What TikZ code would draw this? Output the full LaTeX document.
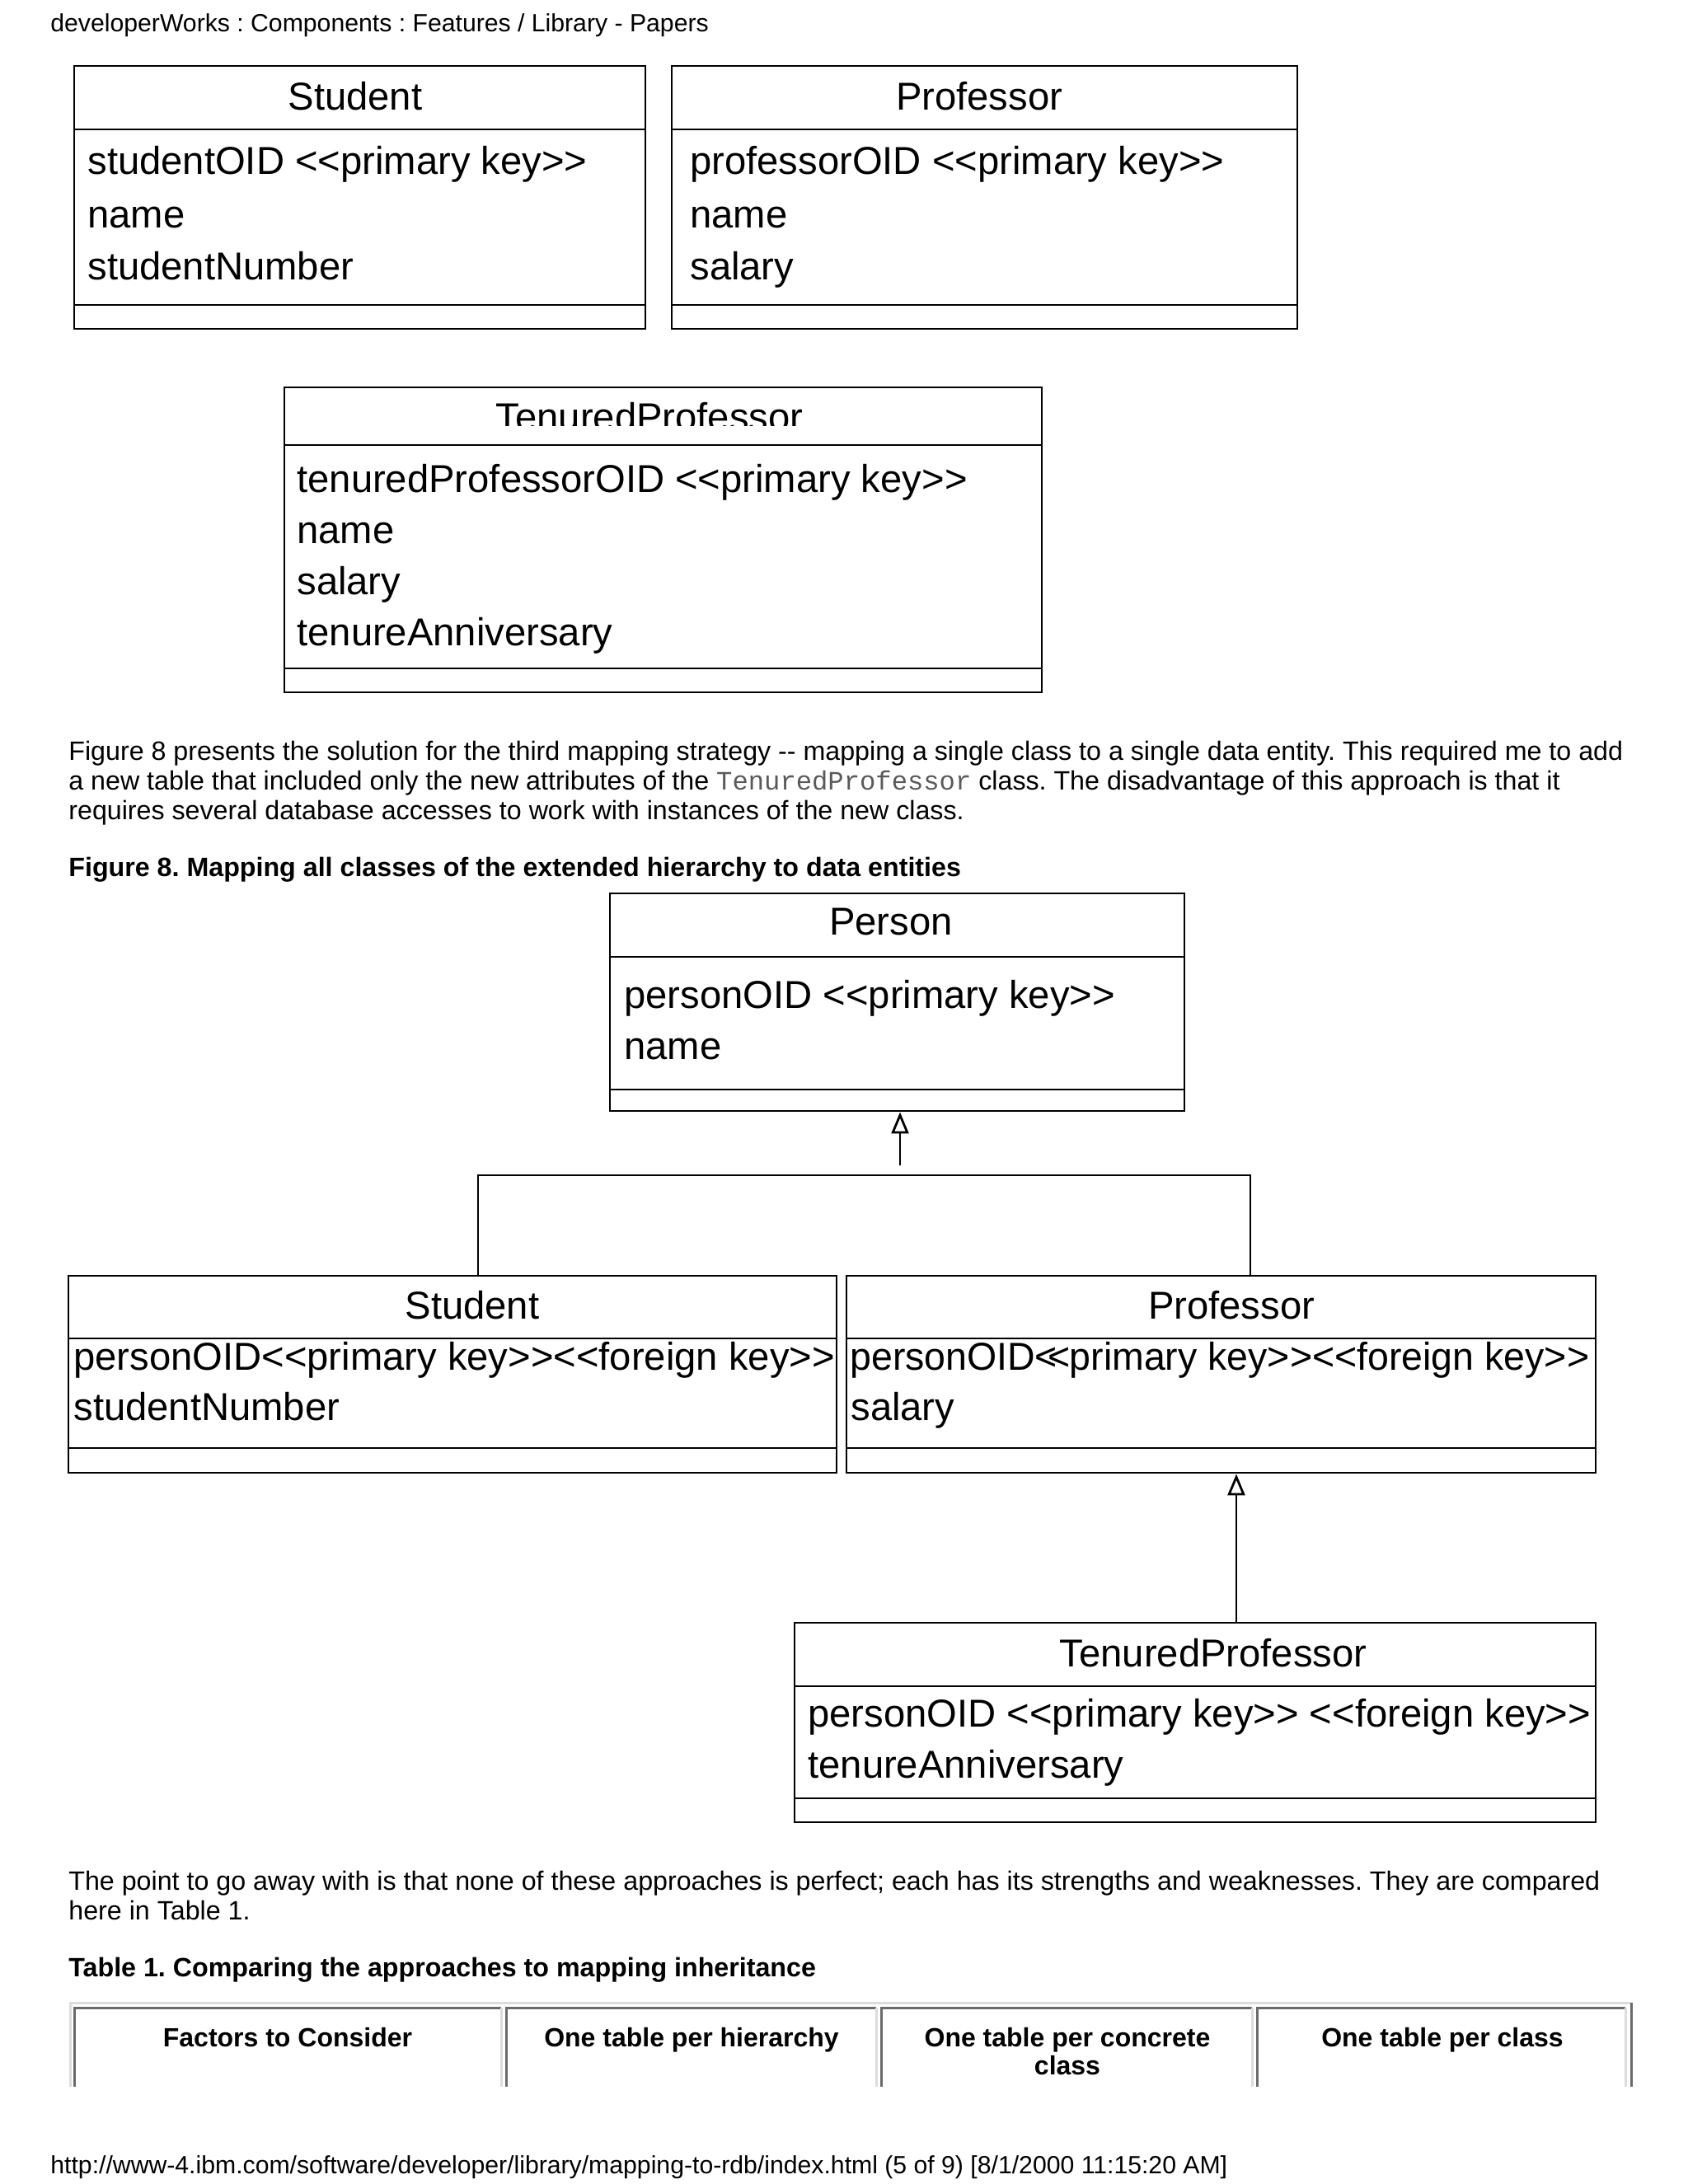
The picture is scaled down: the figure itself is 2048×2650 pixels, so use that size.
\documentclass[tikz,border=0pt]{standalone}
\usepackage{fontspec}
\setmainfont{Liberation Sans}
\setmonofont{Liberation Mono}
\usetikzlibrary{arrows.meta,fit}
\definecolor{tlight}{HTML}{DCDCDC}
\definecolor{tdark}{HTML}{6A6A6A}
\definecolor{codegray}{HTML}{5A5A5A}
\newcommand\LL{<{}<}
\newcommand\GG{>{}>}
\tikzset{
  uml/.style={draw, line width=1.4pt, inner sep=0pt},
  umlline/.style={line width=1.4pt},
  umltxt/.style={font=\fontsize{23.6}{23.6}\selectfont, inner sep=0pt, anchor=base west},
  umltitle/.style={font=\fontsize{23.6}{23.6}\selectfont, inner sep=0pt, anchor=base},
  body/.style={font=\fontsize{16.1}{16.1}\selectfont, inner sep=0pt, anchor=base west},
  capt/.style={font=\bfseries\fontsize{16.1}{16.1}\selectfont, inner sep=0pt, anchor=base west},
  hdr/.style={font=\fontsize{15.1}{15.1}\selectfont, inner sep=0pt, anchor=base west},
  th/.style={font=\bfseries\fontsize{16}{16}\selectfont, inner sep=0pt, anchor=base},
  conn/.style={line width=1.4pt},
  inh/.style={line width=1.4pt, -{Triangle[open, length=13pt, width=10.5pt, fill=white]}},
  lightb/.style={draw=tlight, line width=1.5pt},
  darkb/.style={draw=tdark, line width=1.5pt},
}
% name, x1, y1, x2, y2, divider1, divider2
\newcommand\umlclassbox[7]{%
  \node[uml, fit={(#2,#3) (#4,#5)}] (#1) {};
  \draw[umlline] (#2,#6) -- (#4,#6);
  \draw[umlline] (#2,#7) -- (#4,#7);
}
\begin{document}
\frenchspacing
\begin{tikzpicture}[x=0.5pt, y=-0.5pt]
\useasboundingbox[fill=white] (0,0) rectangle (2048,2650);

% header
\node[hdr] (header) at (61,39) {developerWorks : Components : Features / Library - Papers};

% ---------- top classes ----------
\umlclassbox{stA}{90}{80}{783}{399}{157}{370}
\node[umltitle] (stA-t) at (431,133) {Student};
\node[umltxt] (stA-1) at (106,211) {studentOID \LL primary key\GG};
\node[umltxt] (stA-2) at (106,276) {name};
\node[umltxt] (stA-3) at (106,339) {studentNumber};

\umlclassbox{prA}{815}{80}{1574}{399}{157}{370}
\node[umltitle] (prA-t) at (1188,133) {Professor};
\node[umltxt] (prA-1) at (837,211) {professorOID \LL primary key\GG};
\node[umltxt] (prA-2) at (837,276) {name};
\node[umltxt] (prA-3) at (837,339) {salary};

\umlclassbox{tpA}{345}{470}{1264}{840}{540}{811}
\begin{scope}
  \clip (345,470) rectangle (1264,516);
  \node[umltitle] (tpA-t) at (788,522) {TenuredProfessor};
\end{scope}
\node[umltxt] (tpA-1) at (360,597) {tenuredProfessorOID \LL primary key\GG};
\node[umltxt] (tpA-2) at (360,659) {name};
\node[umltxt] (tpA-3) at (360,721) {salary};
\node[umltxt] (tpA-4) at (360,783) {tenureAnniversary};

% ---------- paragraph 1 ----------
\node[body] (p1a) at (83,922) {Figure 8 presents the solution for the third mapping strategy -{}- mapping a single class to a single data entity. This required me to add};
\node[body] (p1b) at (83,958) {a new table that included only the new attributes of the {\color{codegray}\ttfamily TenuredProfessor} class. The disadvantage of this approach is that it};
\node[body] (p1c) at (83,994) {requires several database accesses to work with instances of the new class.};
\node[capt] (cap8) at (83,1063) {Figure 8. Mapping all classes of the extended hierarchy to data entities};

% ---------- figure 8 ----------
\umlclassbox{person}{740}{1084}{1437}{1348}{1161}{1322}
\node[umltitle] (person-t) at (1081,1134) {Person};
\node[umltxt] (person-1) at (757,1223) {personOID \LL primary key\GG};
\node[umltxt] (person-2) at (757,1285) {name};

\umlclassbox{stB}{83}{1548}{1015}{1787}{1624}{1757}
\node[umltitle] (stB-t) at (573,1600) {Student};
\node[umltxt] (stB-1) at (89,1662) {personOID\LL primary key\GG\LL foreign key\GG};
\node[umltxt] (stB-2) at (89,1723) {studentNumber};

\umlclassbox{prB}{1027}{1548}{1936}{1787}{1624}{1757}
\node[umltitle] (prB-t) at (1494,1600) {Professor};
\node[umltxt, xscale=0.985] (prB-1) at (1031,1662) {personOID\kern-0.5pt<\kern-5.5pt<\kern-0.5pt primary key\GG\LL foreign key\GG};
\node[umltxt] (prB-2) at (1032,1723) {salary};

\umlclassbox{tpB}{964}{1969}{1936}{2211}{2046}{2182}
\node[umltitle] (tpB-t) at (1472,2022) {TenuredProfessor};
\node[umltxt] (tpB-1) at (980,2095) {personOID \LL primary key\GG{} \LL foreign key\GG};
\node[umltxt] (tpB-2) at (980,2157) {tenureAnniversary};

% connectors
\coordinate (barL) at (580,1426);
\coordinate (barR) at (1517,1426);
\coordinate (pstem) at (1092,1414);
\coordinate (tstem) at (1500,1900);
\draw[conn] (stB.north -| barL) -- (barL) -- (barR) -- (prB.north -| barR);
\draw[inh] (pstem) -- (person.south -| pstem);
\draw[inh] (tpB.north -| tstem) -- (prB.south -| tstem);

% ---------- paragraph 2 ----------
\node[body] (p2a) at (83,2293) {The point to go away with is that none of these approaches is perfect; each has its strengths and weaknesses. They are compared};
\node[body] (p2b) at (83,2329) {here in Table 1.};
\node[capt] (cap1) at (83,2398) {Table 1. Comparing the approaches to mapping inheritance};

% ---------- table ----------
\draw[lightb] (85,2532) -- (85,2430) -- (1979,2430);
\draw[darkb] (1979,2430) -- (1979,2532);
\foreach \a/\b in {90/608, 614/1063, 1069/1519, 1525/1972}{
  \draw[darkb] (\a,2532) -- (\a,2436) -- (\b,2436);
  \draw[lightb] (\b,2436) -- (\b,2532);
}
\node[th] (th1) at (349,2483) {Factors to Consider};
\node[th] (th2) at (839,2483) {One table per hierarchy};
\node[th] (th3a) at (1295,2483) {One table per concrete};
\node[th] (th3b) at (1295,2517) {class};
\node[th] (th4) at (1750,2483) {One table per class};

% footer
\node[hdr] (footer) at (61,2637) {http://www-4.ibm.com/software/developer/library/mapping-to-rdb/index.html (5 of 9) [8/1/2000 11:15:20 AM]};
\end{tikzpicture}
\end{document}
